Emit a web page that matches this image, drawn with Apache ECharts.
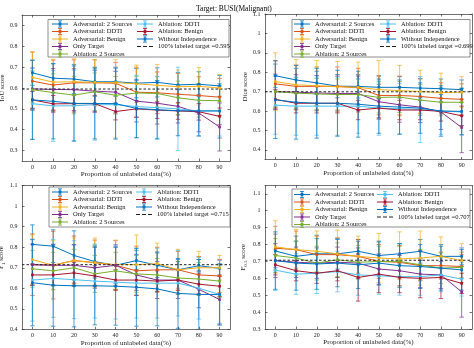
<!DOCTYPE html>
<html><head><meta charset="utf-8">
<script src="https://cdn.jsdelivr.net/npm/echarts@6/dist/echarts.min.js"></script>
<style>html,body{margin:0;padding:0;background:#fff}#c{width:474px;height:348px}</style>
</head><body><div id="c"></div>
<script>
const FONT = 'Liberation Serif';
const xValues = [0, 10, 20, 30, 40, 50, 60, 70, 80, 90];
const xTicks = [0, 10, 20, 30, 40, 50, 60, 70, 80, 90];
const seriesNames = ['Adversarial: 2 Sources', 'Adversarial: DDTI', 'Adversarial: Benign', 'Only Target',
  'Ablation: 2 Sources', 'Ablation: DDTI', 'Ablation: Benign', 'Without Independence'];
const seriesColors = ['#0072BD', '#D95319', '#EDB120', '#7E2F8E', '#77AC30', '#4DBEEE', '#A2142F', '#0072BD'];

// ---- IoU ----
const iouAdv2S = [0.673, 0.647, 0.643, 0.630, 0.630, 0.623, 0.627, 0.615, 0.618, 0.610];
const iouAdv2SErr = [0.06, 0.07, 0.07, 0.07, 0.07, 0.07, 0.07, 0.06, 0.06, 0.05];
const iouAdvDDTI = [0.633, 0.614, 0.625, 0.625, 0.623, 0.580, 0.577, 0.570, 0.564, 0.556];
const iouAdvDDTIErr = [0.14, 0.12, 0.11, 0.11, 0.10, 0.12, 0.10, 0.10, 0.09, 0.09];
const iouAdvBenign = [0.651, 0.628, 0.630, 0.627, 0.626, 0.620, 0.613, 0.606, 0.608, 0.600];
const iouAdvBenignErr = [0.12, 0.11, 0.11, 0.11, 0.11, 0.09, 0.10, 0.08, 0.09, 0.065];
const iouOnlyTarget = [0.596, 0.593, 0.592, 0.585, 0.580, 0.537, 0.527, 0.512, 0.480, 0.413];
const iouOnlyTargetErr = [0.10, 0.10, 0.10, 0.10, 0.10, 0.10, 0.10, 0.08, 0.09, 0.115];
const iouAbl2S = [0.592, 0.578, 0.566, 0.582, 0.565, 0.576, 0.574, 0.553, 0.541, 0.539];
const iouAbl2SErr = [0.09, 0.09, 0.09, 0.09, 0.09, 0.08, 0.08, 0.08, 0.08, 0.07];
const iouAblDDTI = [0.525, 0.514, 0.515, 0.520, 0.520, 0.511, 0.506, 0.500, 0.490, 0.490];
const iouAblDDTIErr = [0.17, 0.17, 0.17, 0.17, 0.16, 0.15, 0.15, 0.20, 0.12, 0.12];
const iouAblBenign = [0.543, 0.524, 0.525, 0.525, 0.487, 0.500, 0.494, 0.490, 0.486, 0.464];
const iouAblBenignErr = [0.04, 0.04, 0.04, 0.04, 0.04, 0.04, 0.04, 0.04, 0.04, 0.04];
const iouWoInd = [0.543, 0.536, 0.526, 0.526, 0.525, 0.502, 0.496, 0.491, 0.490, 0.490];
const iouWoIndErr = [0.19, 0.18, 0.18, 0.17, 0.17, 0.14, 0.14, 0.12, 0.12, 0.13];
const iouRef = 0.595;
const iouTicks = [0.3, 0.4, 0.5, 0.6, 0.7, 0.8, 0.9];

// ---- Dice ----
const diceAdv2S = [0.782, 0.760, 0.745, 0.728, 0.727, 0.722, 0.722, 0.718, 0.715, 0.710];
const diceAdv2SErr = [0.06, 0.06, 0.06, 0.06, 0.06, 0.06, 0.055, 0.05, 0.05, 0.05];
const diceAdvDDTI = [0.740, 0.727, 0.727, 0.727, 0.720, 0.680, 0.680, 0.675, 0.665, 0.660];
const diceAdvDDTIErr = [0.12, 0.11, 0.10, 0.10, 0.10, 0.10, 0.10, 0.09, 0.08, 0.08];
const diceAdvBenign = [0.752, 0.735, 0.730, 0.725, 0.722, 0.710, 0.705, 0.700, 0.695, 0.697];
const diceAdvBenignErr = [0.148, 0.13, 0.13, 0.13, 0.13, 0.15, 0.13, 0.11, 0.10, 0.08];
const diceOnlyTarget = [0.700, 0.697, 0.693, 0.690, 0.690, 0.648, 0.632, 0.620, 0.595, 0.515];
const diceOnlyTargetErr = [0.09, 0.09, 0.09, 0.09, 0.09, 0.09, 0.09, 0.08, 0.09, 0.13];
const diceAbl2S = [0.700, 0.692, 0.688, 0.685, 0.685, 0.670, 0.672, 0.656, 0.645, 0.645];
const diceAbl2SErr = [0.08, 0.08, 0.08, 0.08, 0.08, 0.08, 0.08, 0.08, 0.07, 0.07];
const diceAblDDTI = [0.630, 0.625, 0.625, 0.625, 0.625, 0.615, 0.612, 0.608, 0.600, 0.595];
const diceAblDDTIErr = [0.15, 0.15, 0.15, 0.15, 0.14, 0.14, 0.13, 0.17, 0.12, 0.12];
const diceAblBenign = [0.660, 0.640, 0.640, 0.640, 0.605, 0.615, 0.605, 0.605, 0.598, 0.575];
const diceAblBenignErr = [0.05, 0.05, 0.05, 0.05, 0.05, 0.05, 0.05, 0.05, 0.05, 0.05];
const diceWoInd = [0.658, 0.645, 0.640, 0.640, 0.635, 0.625, 0.620, 0.615, 0.600, 0.598];
const diceWoIndErr = [0.20, 0.19, 0.18, 0.17, 0.17, 0.14, 0.14, 0.13, 0.13, 0.12];
const diceRef = 0.699;
const diceTicks = [0.4, 0.5, 0.6, 0.7, 0.8, 0.9, 1.0, 1.1];

// ---- F1 ----
const f1Adv2S = [0.814, 0.805, 0.760, 0.730, 0.712, 0.735, 0.712, 0.690, 0.710, 0.697];
const f1Adv2SErr = [0.095, 0.08, 0.12, 0.08, 0.09, 0.05, 0.06, 0.05, 0.03, 0.04];
const f1AdvDDTI = [0.715, 0.713, 0.735, 0.725, 0.712, 0.685, 0.690, 0.690, 0.665, 0.660];
const f1AdvDDTIErr = [0.15, 0.165, 0.12, 0.11, 0.12, 0.12, 0.11, 0.09, 0.09, 0.08];
const f1AdvBenign = [0.740, 0.712, 0.735, 0.725, 0.715, 0.715, 0.720, 0.690, 0.700, 0.700];
const f1AdvBenignErr = [0.12, 0.12, 0.11, 0.12, 0.12, 0.145, 0.10, 0.10, 0.08, 0.06];
const f1OnlyTarget = [0.715, 0.712, 0.712, 0.700, 0.712, 0.665, 0.640, 0.640, 0.595, 0.545];
const f1OnlyTargetErr = [0.10, 0.10, 0.10, 0.10, 0.10, 0.10, 0.09, 0.09, 0.09, 0.12];
const f1Abl2S = [0.695, 0.685, 0.700, 0.670, 0.685, 0.670, 0.665, 0.650, 0.645, 0.635];
const f1Abl2SErr = [0.09, 0.09, 0.09, 0.09, 0.09, 0.09, 0.08, 0.08, 0.08, 0.08];
const f1AblDDTI = [0.640, 0.648, 0.642, 0.635, 0.630, 0.625, 0.625, 0.625, 0.600, 0.570];
const f1AblDDTIErr = [0.20, 0.19, 0.19, 0.18, 0.18, 0.17, 0.17, 0.16, 0.15, 0.14];
const f1AblBenign = [0.665, 0.665, 0.675, 0.660, 0.640, 0.640, 0.635, 0.640, 0.620, 0.610];
const f1AblBenignErr = [0.05, 0.05, 0.05, 0.05, 0.05, 0.05, 0.05, 0.05, 0.05, 0.05];
const f1WoInd = [0.627, 0.615, 0.612, 0.612, 0.610, 0.605, 0.597, 0.575, 0.570, 0.570];
const f1WoIndErr = [0.21, 0.20, 0.20, 0.19, 0.19, 0.19, 0.18, 0.17, 0.17, 0.15];
const f1Ref = 0.715;
const f1Ticks = [0.4, 0.5, 0.6, 0.7, 0.8, 0.9, 1.0, 1.1];

// ---- F0.5 ----
const f05Adv2S = [0.762, 0.730, 0.745, 0.745, 0.760, 0.735, 0.745, 0.760, 0.730, 0.730];
const f05Adv2SErr = [0.10, 0.09, 0.11, 0.09, 0.07, 0.08, 0.06, 0.07, 0.07, 0.05];
const f05AdvDDTI = [0.778, 0.770, 0.740, 0.740, 0.730, 0.700, 0.695, 0.675, 0.675, 0.670];
const f05AdvDDTIErr = [0.13, 0.11, 0.11, 0.10, 0.10, 0.10, 0.10, 0.09, 0.08, 0.07];
const f05AdvBenign = [0.786, 0.770, 0.760, 0.745, 0.730, 0.720, 0.715, 0.720, 0.730, 0.705];
const f05AdvBenignErr = [0.155, 0.12, 0.12, 0.14, 0.12, 0.145, 0.16, 0.16, 0.115, 0.10];
const f05OnlyTarget = [0.705, 0.695, 0.690, 0.695, 0.690, 0.655, 0.645, 0.625, 0.620, 0.520];
const f05OnlyTargetErr = [0.10, 0.09, 0.09, 0.09, 0.09, 0.09, 0.09, 0.08, 0.08, 0.15];
const f05Abl2S = [0.735, 0.720, 0.690, 0.710, 0.695, 0.700, 0.700, 0.680, 0.660, 0.665];
const f05Abl2SErr = [0.10, 0.10, 0.10, 0.10, 0.10, 0.09, 0.09, 0.09, 0.09, 0.09];
const f05AblDDTI = [0.648, 0.625, 0.630, 0.640, 0.620, 0.615, 0.610, 0.610, 0.620, 0.595];
const f05AblDDTIErr = [0.12, 0.12, 0.12, 0.12, 0.12, 0.11, 0.11, 0.11, 0.10, 0.10];
const f05AblBenign = [0.680, 0.645, 0.630, 0.645, 0.605, 0.625, 0.605, 0.600, 0.605, 0.570];
const f05AblBenignErr = [0.06, 0.06, 0.06, 0.06, 0.14, 0.11, 0.09, 0.115, 0.125, 0.06];
const f05WoInd = [0.705, 0.690, 0.685, 0.690, 0.680, 0.690, 0.675, 0.670, 0.660, 0.650];
const f05WoIndErr = [0.17, 0.16, 0.15, 0.14, 0.14, 0.13, 0.13, 0.13, 0.13, 0.12];
const f05Ref = 0.707;
const f05Ticks = [0.3, 0.4, 0.5, 0.6, 0.7, 0.8, 0.9, 1.0, 1.1];

const panels = [
  { means: [iouAdv2S, iouAdvDDTI, iouAdvBenign, iouOnlyTarget, iouAbl2S, iouAblDDTI, iouAblBenign, iouWoInd],
    errs: [iouAdv2SErr, iouAdvDDTIErr, iouAdvBenignErr, iouOnlyTargetErr, iouAbl2SErr, iouAblDDTIErr, iouAblBenignErr, iouWoIndErr],
    ref: iouRef, ticks: iouTicks, yMin: 0.25, yMax: 0.95, yName: 'IoU score',
    grid: { left: 22, top: 15, width: 208, height: 146 }, box: [48, 19.5, 181, 37.5], lgLeft: [52, 137], lgTop: 20.5, nameGap: 14 },
  { means: [diceAdv2S, diceAdvDDTI, diceAdvBenign, diceOnlyTarget, diceAbl2S, diceAblDDTI, diceAblBenign, diceWoInd],
    errs: [diceAdv2SErr, diceAdvDDTIErr, diceAdvBenignErr, diceOnlyTargetErr, diceAbl2SErr, diceAblDDTIErr, diceAblBenignErr, diceWoIndErr],
    ref: diceRef, ticks: diceTicks, yMin: 0.35, yMax: 1.1, yName: 'Dice score',
    grid: { left: 265, top: 14, width: 207, height: 145.5 }, box: [292, 19.5, 178, 37.5], lgLeft: [294, 380], lgTop: 20.5, nameGap: 15 },
  { means: [f1Adv2S, f1AdvDDTI, f1AdvBenign, f1OnlyTarget, f1Abl2S, f1AblDDTI, f1AblBenign, f1WoInd],
    errs: [f1Adv2SErr, f1AdvDDTIErr, f1AdvBenignErr, f1OnlyTargetErr, f1Abl2SErr, f1AblDDTIErr, f1AblBenignErr, f1WoIndErr],
    ref: f1Ref, ticks: f1Ticks, yMin: 0.4, yMax: 1.1, yName: '{f|F}{s|1}{f| score}',
    grid: { left: 22, top: 185.7, width: 208, height: 143.6 }, box: [49, 187, 181, 40], lgLeft: [52, 136], lgTop: 188.5, nameGap: 14 },
  { means: [f05Adv2S, f05AdvDDTI, f05AdvBenign, f05OnlyTarget, f05Abl2S, f05AblDDTI, f05AblBenign, f05WoInd],
    errs: [f05Adv2SErr, f05AdvDDTIErr, f05AdvBenignErr, f05OnlyTargetErr, f05Abl2SErr, f05AblDDTIErr, f05AblBenignErr, f05WoIndErr],
    ref: f05Ref, ticks: f05Ticks, yMin: 0.3, yMax: 1.15, yName: '{f|F}{s|0.5}{f| score}',
    grid: { left: 265, top: 185.4, width: 207, height: 143.6 }, box: [292, 189, 178, 38], lgLeft: [294, 377], lgTop: 191, nameGap: 17 }
];

const X_MIN = -5, X_MAX = 95;
const AX = '#333';
const ebIcon = 'path://M0,3h16v1H0z M7.5,0h1v7h-1z M6,0h4v0.8H6z M6,6.2h4v0.8H6z M6.6,2.1h2.8v2.8H6.6z';
const dashIcon = 'path://M0,3h4v1H0z M6,3h4v1H6z M12,3h4v1H12z M0,0h0.01v7H0z';
const fmt = v => String(parseFloat((+v).toFixed(3)));

const option = {
  animation: false,
  backgroundColor: '#fff',
  title: { text: 'Target: BUSI(Malignant)', left: 191, top: 0.5,
    textStyle: { fontFamily: FONT, fontSize: 7.5, fontWeight: 'normal', color: '#000' } },
  grid: [], xAxis: [], yAxis: [], series: [], legend: [], graphic: []
};

panels.forEach((p, i) => {
  option.grid.push(Object.assign({ containLabel: false, outerBoundsMode: 'none' }, p.grid));
  const tickStyle = { show: true, inside: true, length: 2.5, lineStyle: { color: AX, width: 0.7 } };
  const lineStyle = { show: true, onZero: false, lineStyle: { color: AX, width: 0.7 } };
  option.xAxis.push({
    type: 'value', gridIndex: i, min: X_MIN, max: X_MAX, position: 'bottom',
    axisLine: lineStyle, splitLine: { show: false },
    axisTick: Object.assign({ customValues: xTicks }, tickStyle),
    axisLabel: { customValues: xTicks, fontFamily: FONT, fontSize: 6, color: '#222', margin: 3, formatter: fmt },
    name: 'Proportion of unlabeled data(%)', nameLocation: 'middle', nameGap: 10,
    nameTextStyle: { fontFamily: FONT, fontSize: 7, color: '#222' }
  });
  option.xAxis.push({
    type: 'value', gridIndex: i, min: X_MIN, max: X_MAX, position: 'top',
    axisLine: lineStyle, splitLine: { show: false },
    axisTick: Object.assign({ customValues: xTicks }, tickStyle), axisLabel: { show: false }
  });
  option.yAxis.push({
    type: 'value', gridIndex: i, min: p.yMin, max: p.yMax, position: 'left',
    axisLine: lineStyle, splitLine: { show: false },
    axisTick: Object.assign({ customValues: p.ticks }, tickStyle),
    axisLabel: { customValues: p.ticks, fontFamily: FONT, fontSize: 6, color: '#222', margin: 4.5, formatter: fmt },
    name: p.yName, nameLocation: 'middle', nameGap: p.nameGap, nameRotate: 90,
    nameTextStyle: { fontFamily: FONT, fontSize: 7, color: '#222',
      rich: { f: { fontFamily: FONT, fontSize: 7, color: '#222', lineHeight: 9, verticalAlign: 'middle' },
              s: { fontFamily: FONT, fontSize: 5, color: '#222', lineHeight: 5, verticalAlign: 'bottom' } } }
  });
  option.yAxis.push({
    type: 'value', gridIndex: i, min: p.yMin, max: p.yMax, position: 'right',
    axisLine: lineStyle, splitLine: { show: false },
    axisTick: Object.assign({ customValues: p.ticks }, tickStyle), axisLabel: { show: false }
  });
  const xi = 2 * i, yi = 2 * i;
  seriesNames.forEach((name, k) => {
    const color = seriesColors[k];
    const m = p.means[k], e = p.errs[k];
    option.series.push({
      type: 'custom', name: name + ' err', xAxisIndex: xi, yAxisIndex: yi, clip: true,
      itemStyle: { color },
      encode: { x: 0, y: [1, 2] },
      data: xValues.map((x, j) => [x, m[j] - e[j], m[j] + e[j]]),
      renderItem: (params, api) => {
        const x = api.value(0);
        const a = api.coord([x, api.value(2)]);
        const b = api.coord([x, api.value(1)]);
        const cw = 2.2;
        const st = { stroke: color, lineWidth: 0.7, fill: null };
        return { type: 'group', children: [
          { type: 'line', shape: { x1: a[0], y1: a[1], x2: b[0], y2: b[1] }, style: st },
          { type: 'line', shape: { x1: a[0] - cw, y1: a[1], x2: a[0] + cw, y2: a[1] }, style: st },
          { type: 'line', shape: { x1: b[0] - cw, y1: b[1], x2: b[0] + cw, y2: b[1] }, style: st }
        ] };
      }
    });
    option.series.push({
      type: 'line', name, xAxisIndex: xi, yAxisIndex: yi,
      data: xValues.map((x, j) => [x, m[j]]),
      symbol: 'rect', symbolSize: 2.6, showSymbol: true,
      lineStyle: { color, width: 1 }, itemStyle: { color, borderWidth: 0 },
      emphasis: { disabled: true }
    });
  });
  const refName = '100% labeled target =' + fmt(p.ref);
  option.series.push({
    type: 'line', name: refName, xAxisIndex: xi, yAxisIndex: yi,
    data: [[X_MIN, p.ref], [X_MAX, p.ref]], symbol: 'none',
    lineStyle: { color: '#222', width: 1, type: [2.5, 2] }, itemStyle: { color: '#222' },
    emphasis: { disabled: true }
  });
  option.graphic.push({ type: 'rect', z: 3, shape: { x: p.box[0], y: p.box[1], width: p.box[2], height: p.box[3] },
    style: { fill: '#fff', stroke: '#444', lineWidth: 0.6 } });
  const col1 = seriesNames.slice(0, 5).map(n => ({ name: n, icon: ebIcon }));
  const col2 = seriesNames.slice(5).map(n => ({ name: n, icon: ebIcon })).concat([{ name: refName, icon: dashIcon }]);
  [col1, col2].forEach((data, c) => {
    option.legend.push({
      data, left: p.lgLeft[c], top: p.lgTop, orient: 'vertical', padding: 0,
      itemWidth: 16, itemHeight: 7, itemGap: 0.5, selectedMode: false, z: 5,
      itemStyle: { borderWidth: 0 },
      textStyle: { fontFamily: FONT, fontSize: 6.5, color: '#111' }
    });
  });
});

const chart = echarts.init(document.getElementById('c'), null, { renderer: 'canvas', width: 474, height: 348 });
chart.setOption(option);
</script></body></html>
